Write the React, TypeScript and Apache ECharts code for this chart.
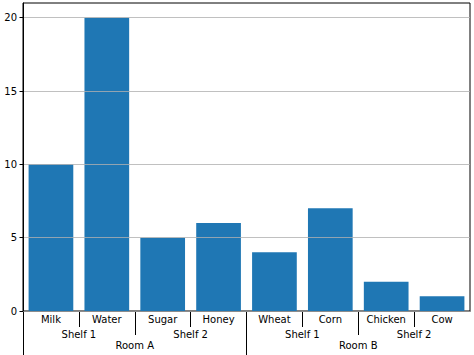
import React, { useEffect, useRef } from "react";
import * as echarts from "echarts";

const categories = ["Milk", "Water", "Sugar", "Honey", "Wheat", "Corn", "Chicken", "Cow"];
const values = [10, 20, 5, 6, 4, 7, 2, 1];
const shelves = ["Shelf 1", "Shelf 2", "Shelf 1", "Shelf 2"];
const shelfSize = 2;
const rooms = ["Room A", "Room B"];
const roomSize = 4;
const yTicks = [0, 5, 10, 15, 20];

const FONT = "DejaVu Sans";

export default function App() {
  const ref = useRef<HTMLDivElement>(null);
  useEffect(() => {
    if (!ref.current) return;
    const chart = echarts.init(ref.current, null, { renderer: "svg" });
    const n = categories.length;
    const itemSeps: number[] = [];
    for (let i = 1; i < n; i++) if (i % shelfSize !== 0) itemSeps.push(i - 0.5);
    const shelfSeps: number[] = [];
    for (let i = shelfSize; i < n; i += shelfSize) if (i % roomSize !== 0) shelfSeps.push(i - 0.5);
    const roomSeps: number[] = [-0.5];
    for (let i = roomSize; i < n; i += roomSize) roomSeps.push(i - 0.5);

    const sepAxis = (vals: number[], len: number) => ({
      type: "value",
      position: "bottom",
      min: -0.5,
      max: n - 0.5,
      axisLine: { show: false, onZero: false },
      splitLine: { show: false },
      axisLabel: { show: false },
      axisTick: {
        show: true,
        customValues: vals,
        length: len,
        lineStyle: { color: "#000", width: 1 },
      },
    });
    const labelAxis = (data: string[], margin: number) => ({
      type: "category",
      position: "bottom",
      data,
      axisLine: { show: false, onZero: false },
      axisTick: { show: false },
      axisLabel: { margin, interval: 0, fontFamily: FONT, fontSize: 10, color: "#000" },
    });

    chart.setOption({
      animation: false,
      grid: {
        left: 23,
        right: 4,
        top: 3,
        bottom: 44,
        show: true,
        borderColor: "#000",
        borderWidth: 1,
        backgroundColor: "transparent",
      },
      xAxis: [
        {
          type: "category",
          position: "bottom",
          data: categories,
          axisLine: { show: true, onZero: false, lineStyle: { color: "#000", width: 1 } },
          axisTick: { show: false },
          axisLabel: { margin: 3, interval: 0, fontFamily: FONT, fontSize: 10, color: "#000" },
        },
        labelAxis(shelves, 18),
        labelAxis(rooms, 29),
        sepAxis(itemSeps, 16),
        sepAxis(shelfSeps, 24),
        sepAxis(roomSeps, 44),
      ],
      yAxis: {
        type: "value",
        min: 0,
        max: 21,
        interval: 5,
        z: 3,
        axisLine: { show: true, onZero: false, lineStyle: { color: "#000", width: 1 } },
        axisTick: { show: true, length: 3.5, customValues: yTicks, lineStyle: { color: "#000" } },
        axisLabel: { margin: 6, fontFamily: FONT, fontSize: 10, color: "#000", customValues: yTicks },
        splitLine: { show: true, lineStyle: { color: "#b0b0b0", width: 0.8 } },
      },
      series: [
        {
          type: "bar",
          xAxisIndex: 0,
          data: values,
          barCategoryGap: "20%",
          itemStyle: { color: "#1f77b4" },
        },
      ],
    });
    return () => chart.dispose();
  }, []);
  return (
    <div
      ref={ref}
      style={{ width: 474, height: 355, position: "absolute", left: 0, top: 0, background: "#fff" }}
    />
  );
}
